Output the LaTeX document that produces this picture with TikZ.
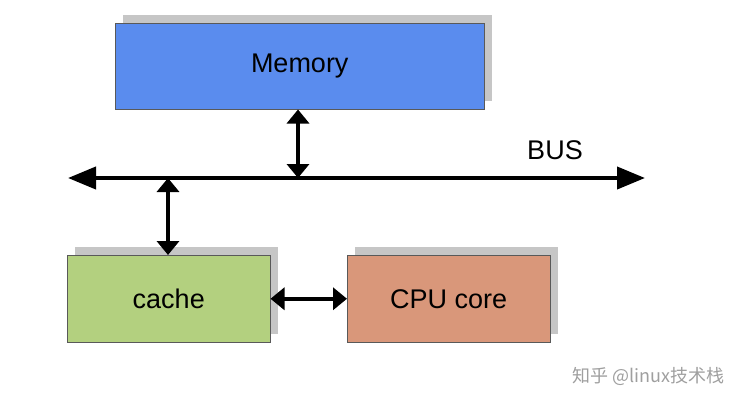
\documentclass[tikz,border=0pt]{standalone}
\usepackage{fontspec}
\setmainfont{Liberation Sans}
\newfontfamily\cjk{Noto Sans CJK SC}
\usetikzlibrary{arrows.meta}
\definecolor{memblue}{HTML}{5A8CEE}
\definecolor{cachegreen}{HTML}{B3D07F}
\definecolor{cpured}{HTML}{D9977A}
\tikzset{
  x=1pt,y=-1pt,
  boxstyle/.style={draw=gray!70!black, line width=0.5pt, minimum width=#1, inner sep=0pt, font=\fontsize{27}{32}\selectfont},
  shadowbox/.style={fill=gray!45, draw=none},
  conn/.style={line width=4pt, {Triangle[length=28pt,width=22pt]}-{Triangle[length=28pt,width=22pt]}},
  shortconn/.style={line width=4pt, {Triangle[length=14pt,width=22pt]}-{Triangle[length=14pt,width=22pt]}}
}
\begin{document}
\begin{tikzpicture}
\useasboundingbox (0,0) rectangle (755,408);
% shadows
\fill[shadowbox] (123,15) rectangle (492,101);
\fill[shadowbox] (75,247) rectangle (278,334);
\fill[shadowbox] (355,247) rectangle (558,334);
% boxes
\node[boxstyle=369pt, minimum height=86pt, fill=memblue, anchor=north west] (mem) at (115,23) {Memory};
\node[boxstyle=203pt, minimum height=87pt, fill=cachegreen, anchor=north west] (cache) at (67,255) {cache};
\node[boxstyle=203pt, minimum height=87pt, fill=cpured, anchor=north west] (cpu) at (347,255) {CPU core};
% bus
\coordinate (busL) at (68,178);
\coordinate (busR) at (645,178);
\draw[conn] (busL) -- (busR);
\node[font=\fontsize{27}{32}\selectfont] (buslabel) at (555,150) {BUS};
\coordinate (memBus) at (298,178);
\coordinate (cacheBus) at (168,178);
\draw[shortconn] (mem.south -| memBus) -- (memBus);
\draw[shortconn] (cacheBus) -- (cache.north -| cacheBus);
\draw[shortconn] (cache.east) -- (cpu.west);
\node[font=\cjk\fontsize{18}{22}\selectfont, text=gray!75] (wm) at (648,376) {知乎 @linux技术栈};
\end{tikzpicture}
\end{document}
